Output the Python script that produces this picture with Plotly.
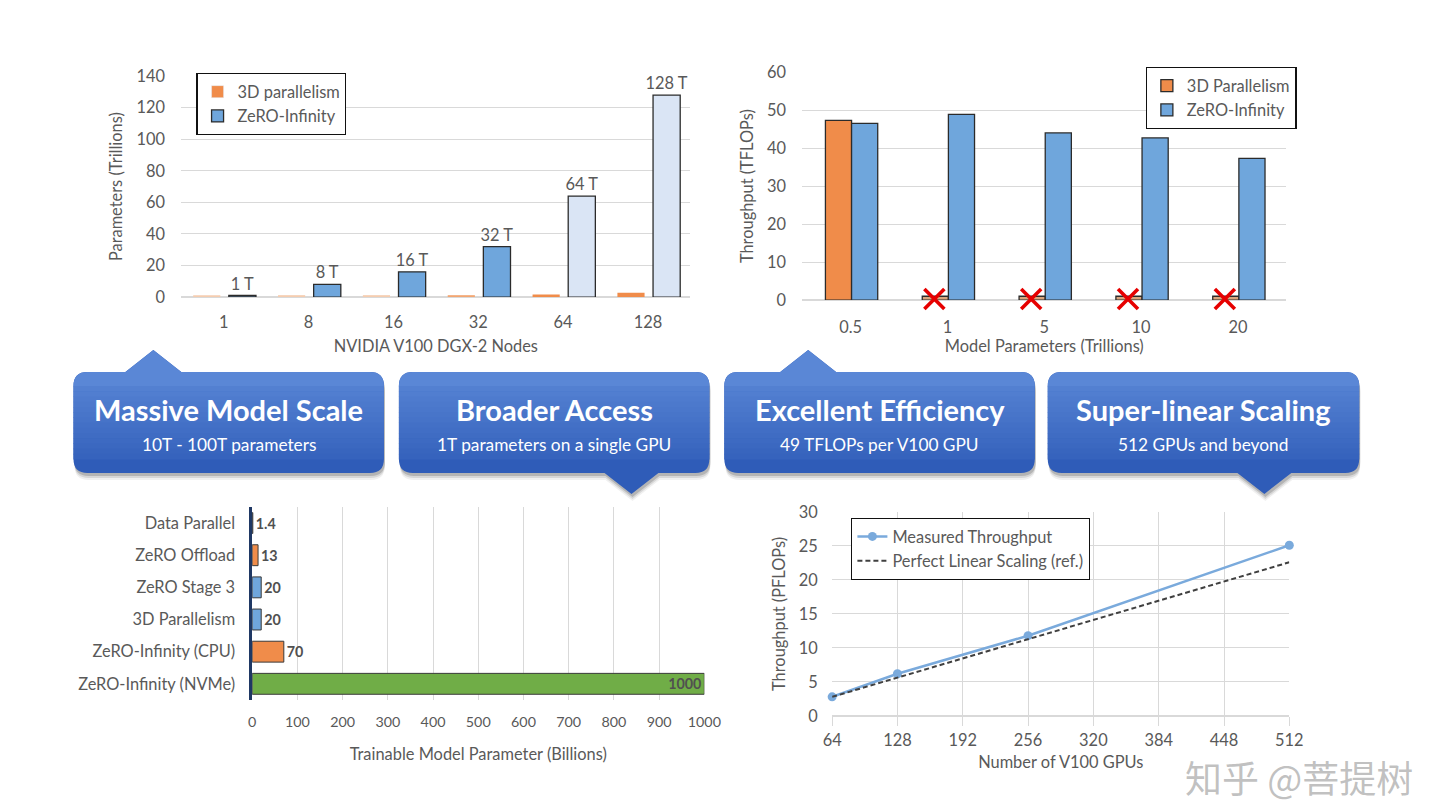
import plotly.graph_objects as go

W, H = 1440, 811
# the page is photographed slightly scaled/offset; map target picture pixels to figure paper coords
AX, BX, AY, BY = 0.983, 8.4, 0.977, 9.8
def X(px): return ((px - BX) / AX) / W
def Y(py): return 1 - ((py - BY) / AY) / H

FONT = "Lato"
GREY = "#595959"
GRID = "#d9d9d9"
FS = 16.4

# ---------------- data ----------------
nodes = ["1", "8", "16", "32", "64", "128"]
p3d_params = [0.8, 0.8, 0.8, 1.0, 1.7, 2.8]
zero_params = [1, 8, 16, 32, 64, 128]
zero_labels = ["1 T", "8 T", "16 T", "32 T", "64 T", "128 T"]

model_sizes = ["0.5", "1", "5", "10", "20"]
p3d_tflops = [47.3, 1.0, 1.0, 1.0, 1.0]
zero_tflops = [46.5, 48.9, 44.0, 42.7, 37.3]
p3d_failed = [False, True, True, True, True]

methods = ["Data Parallel", "ZeRO Offload", "ZeRO Stage 3", "3D Parallelism",
           "ZeRO-Infinity (CPU)", "ZeRO-Infinity (NVMe)"]
trainable_b = [1.4, 13, 20, 20, 70, 1000]
trainable_labels = ["1.4", "13", "20", "20", "70", "1000"]

gpus = [64, 128, 256, 512]
measured_pflops = [2.8, 6.2, 11.8, 25.1]
linear_gpus = [64, 512]
linear_pflops = [2.8, 22.6]

callout_titles = ["Massive Model Scale", "Broader Access", "Excellent Efficiency", "Super-linear Scaling"]
callout_subs = ["10T - 100T parameters", "1T parameters on a single GPU",
                "49 TFLOPs per V100 GPU", "512 GPUs and beyond"]

# ---------------- colours ----------------
ORANGE = "#f08c4a"
BLUE = "#6fa6dc"
LBLUE = "#dae5f5"
GREEN = "#70ad47"
NAVY = "#1f3864"
EDGE = "#2b2b2b"

fig = go.Figure()

# ---- Chart 1 ----
idx1 = list(range(len(nodes)))
fig.add_trace(go.Bar(x=idx1, y=p3d_params, xaxis="x", yaxis="y", width=0.32, offset=-0.36,
                     marker=dict(color=["#f5cdb0", "#f5cdb0", "#f5cdb0", "#f2a672", ORANGE, ORANGE],
                                 line=dict(width=0)), showlegend=False, hoverinfo="skip"))
fig.add_trace(go.Bar(x=idx1, y=zero_params, xaxis="x", yaxis="y", width=0.32, offset=0.06,
                     marker=dict(color=[BLUE, BLUE, BLUE, BLUE, LBLUE, LBLUE],
                                 line=dict(width=1.3, color=EDGE)),
                     text=zero_labels, textposition="outside", cliponaxis=False, constraintext="none",
                     textfont=dict(size=FS, color=GREY, family=FONT),
                     showlegend=False, hoverinfo="skip"))
fig.add_trace(go.Bar(x=[None], y=[None], xaxis="x", yaxis="y", name="3D parallelism",
                     marker=dict(color=ORANGE), legend="legend"))
fig.add_trace(go.Bar(x=[None], y=[None], xaxis="x", yaxis="y", name="ZeRO-Infinity",
                     marker=dict(color=BLUE, line=dict(width=1.3, color=EDGE)), legend="legend"))

# ---- Chart 2 ----
idx2 = list(range(len(model_sizes)))
fig.add_trace(go.Bar(x=idx2, y=p3d_tflops, xaxis="x2", yaxis="y2", width=0.27, offset=-0.26,
                     marker=dict(color=[ORANGE, "#d9a47c", "#d9a47c", "#d9a47c", "#d9a47c"],
                                 line=dict(width=1.3, color=EDGE)),
                     showlegend=False, hoverinfo="skip"))
fig.add_trace(go.Bar(x=idx2, y=zero_tflops, xaxis="x2", yaxis="y2", width=0.27, offset=0.01,
                     marker=dict(color=BLUE, line=dict(width=1.3, color=EDGE)),
                     showlegend=False, hoverinfo="skip"))
fx = [i - 0.135 for i, f in zip(idx2, p3d_failed) if f]
fig.add_trace(go.Scatter(x=fx, y=[0.3] * len(fx), xaxis="x2", yaxis="y2", mode="markers",
                         marker=dict(symbol="x-thin", size=20, line=dict(width=3.6, color="#e60000")),
                         cliponaxis=False, showlegend=False, hoverinfo="skip"))
fig.add_trace(go.Bar(x=[None], y=[None], xaxis="x2", yaxis="y2", name="3D Parallelism",
                     marker=dict(color=ORANGE, line=dict(width=1.3, color=EDGE)), legend="legend2"))
fig.add_trace(go.Bar(x=[None], y=[None], xaxis="x2", yaxis="y2", name="ZeRO-Infinity",
                     marker=dict(color=BLUE, line=dict(width=1.3, color=EDGE)), legend="legend2"))

# ---- Chart 3 ----
fig.add_trace(go.Bar(y=methods, x=trainable_b, orientation="h", xaxis="x3", yaxis="y3", width=0.65,
                     marker=dict(color=[NAVY, ORANGE, BLUE, BLUE, ORANGE, GREEN],
                                 line=dict(width=1, color="#3a3a3a")),
                     text=["<b>%s</b>" % t for t in trainable_labels],
                     textposition=["outside"] * 5 + ["inside"], insidetextanchor="end",
                     textfont=dict(size=14.3, color="#505050", family=FONT),
                     constraintext="none", cliponaxis=False, showlegend=False, hoverinfo="skip"))

# ---- Chart 4 ----
fig.add_trace(go.Scatter(x=gpus, y=measured_pflops, xaxis="x4", yaxis="y4", mode="lines+markers",
                         name="Measured Throughput", line=dict(color="#7aaadc", width=2.5),
                         marker=dict(size=9, color="#7aaadc"), cliponaxis=False, legend="legend4"))
fig.add_trace(go.Scatter(x=linear_gpus, y=linear_pflops, xaxis="x4", yaxis="y4", mode="lines",
                         name="Perfect Linear Scaling (ref.)",
                         line=dict(color="#404040", width=2, dash="5px,3px"), legend="legend4"))

tickfont = dict(size=FS, color=GREY, family=FONT)
titlefont = dict(size=FS, color=GREY, family=FONT)
hidden_ticks = dict(ticks="outside", tickcolor="rgba(0,0,0,0)")

legend_common = dict(xanchor="left", yanchor="top", bordercolor="#111111", borderwidth=1.3,
                     bgcolor="white", font=dict(size=FS, color=GREY, family=FONT),
                     itemwidth=30, tracegroupgap=0, traceorder="normal")

fig.update_layout(
    width=W, height=H, margin=dict(l=0, r=0, t=0, b=0),
    paper_bgcolor="white", plot_bgcolor="white",
    font=dict(family=FONT, color=GREY), barmode="overlay",
    xaxis=dict(domain=[X(180), X(690)], anchor="y", range=[-0.5, 5.5], tickvals=idx1, ticktext=nodes,
               showgrid=False, zeroline=False, showline=False, tickfont=tickfont, ticklen=10, **hidden_ticks,
               title=dict(text="NVIDIA V100 DGX-2 Nodes", font=titlefont, standoff=10)),
    yaxis=dict(domain=[Y(297), Y(76)], anchor="x", range=[0, 140], dtick=20, gridcolor=GRID,
               zeroline=True, zerolinecolor=GRID, showline=False, tickfont=tickfont, ticklen=12, **hidden_ticks,
               title=dict(text="Parameters (Trillions)", font=titlefont, standoff=9)),
    xaxis2=dict(domain=[X(802), X(1287)], anchor="y2", range=[-0.5, 4.5], tickvals=idx2, ticktext=model_sizes,
                showgrid=False, zeroline=False, showline=False, tickfont=tickfont, ticklen=12, **hidden_ticks,
                title=dict(text="Model Parameters (Trillions)", font=titlefont, standoff=5)),
    yaxis2=dict(domain=[Y(300), Y(72)], anchor="x2", range=[0, 60], dtick=10, gridcolor=GRID,
                zeroline=True, zerolinecolor=GRID, showline=False, tickfont=tickfont, ticklen=12, **hidden_ticks,
                title=dict(text="Throughput (TFLOPs)", font=titlefont, standoff=9)),
    xaxis3=dict(domain=[X(251), X(704)], anchor="y3", range=[0, 1000], dtick=100, gridcolor=GRID,
                showgrid=True, zeroline=False, showline=False, tickfont=dict(size=14.3, color=GREY, family=FONT),
                ticklen=9, **hidden_ticks,
                title=dict(text="Trainable Model Parameter (Billions)", font=titlefont, standoff=19)),
    yaxis3=dict(domain=[Y(700), Y(507)], anchor="x3", autorange="reversed", showgrid=False,
                showline=True, linecolor=NAVY, linewidth=2.5, tickfont=tickfont, ticklen=11, **hidden_ticks),
    xaxis4=dict(domain=[X(832), X(1290)], anchor="y4", range=[64, 512], tick0=64, dtick=64, gridcolor=GRID,
                showgrid=True, zeroline=False, showline=False, tickfont=tickfont,
                ticks="outside", ticklen=9, tickcolor=GRID,
                title=dict(text="Number of V100 GPUs", font=titlefont, standoff=8)),
    yaxis4=dict(domain=[Y(716), Y(512)], anchor="x4", range=[0, 30], dtick=5, gridcolor=GRID,
                zeroline=True, zerolinecolor=GRID, showline=False, tickfont=tickfont, ticklen=10, **hidden_ticks,
                title=dict(text="Throughput (PFLOPs)", font=titlefont, standoff=9)),
    legend=dict(x=X(195), y=Y(73), **legend_common),
    legend2=dict(x=X(1146), y=Y(67), **legend_common),
    legend4=dict(x=X(851), y=Y(518), **legend_common),
)

# ---------------- callout boxes ----------------
def pt(x, y):
    return "%.5f,%.5f" % (X(x), Y(y))

def box_path(x0, y0, x1, y1, r, ptr, dx=0, dy=0):
    x0 += dx; x1 += dx; y0 += dy; y1 += dy
    side, cx, hw, ay = ptr
    cx += dx; ay += dy
    p = "M" + pt(x0 + r, y0)
    if side == "top":
        p += " L" + pt(cx - hw, y0) + " L" + pt(cx, ay) + " L" + pt(cx + hw, y0)
    p += " L" + pt(x1 - r, y0) + " Q" + pt(x1, y0) + " " + pt(x1, y0 + r)
    p += " L" + pt(x1, y1 - r) + " Q" + pt(x1, y1) + " " + pt(x1 - r, y1)
    if side == "bottom":
        p += " L" + pt(cx + hw, y1) + " L" + pt(cx, ay) + " L" + pt(cx - hw, y1)
    p += " L" + pt(x0 + r, y1) + " Q" + pt(x0, y1) + " " + pt(x0, y1 - r)
    p += " L" + pt(x0, y0 + r) + " Q" + pt(x0, y0) + " " + pt(x0 + r, y0) + " Z"
    return p

def top_band(x0, y0, x1, r, ptr):
    side, cx, hw, ay = ptr
    p = "M" + pt(x0, y0 + r + 0.5) + " L" + pt(x0, y0 + r) + " Q" + pt(x0, y0) + " " + pt(x0 + r, y0)
    if side == "top":
        p += " L" + pt(cx - hw, y0) + " L" + pt(cx, ay) + " L" + pt(cx + hw, y0)
    p += " L" + pt(x1 - r, y0) + " Q" + pt(x1, y0) + " " + pt(x1, y0 + r) + " L" + pt(x1, y0 + r + 0.5) + " Z"
    return p

def mix(c1, c2, t):
    a = [int(c1[i:i + 2], 16) for i in (1, 3, 5)]
    b = [int(c2[i:i + 2], 16) for i in (1, 3, 5)]
    return "rgb(%d,%d,%d)" % tuple(round(a[k] + (b[k] - a[k]) * t) for k in range(3))

TOP_C, BOT_C = "#5a87d6", "#2f5cb8"
boxes = [
    (72, 372, 383, 473, ("top", 152, 28, 350)),
    (398, 372, 709, 473, ("bottom", 631, 27, 494)),
    (724, 372, 1035, 473, ("top", 808, 28, 350)),
    (1048, 372, 1360, 473, ("bottom", 1265, 27, 494)),
]
shapes = []
R = 14
for (x0, y0, x1, y1, ptr), title, sub in zip(boxes, callout_titles, callout_subs):
    for k, (off, op) in enumerate([(7, 0.06), (5, 0.10), (3, 0.16)]):
        shapes.append(dict(type="path", xref="paper", yref="paper",
                           path=box_path(x0, y0, x1, y1, R, ptr, dx=1, dy=off),
                           fillcolor="rgba(0,0,0,%.2f)" % op, line=dict(width=0), layer="below"))
    shapes.append(dict(type="path", xref="paper", yref="paper", path=box_path(x0, y0, x1, y1, R, ptr),
                       fillcolor=BOT_C, line=dict(width=0)))
    shapes.append(dict(type="path", xref="paper", yref="paper", path=top_band(x0, y0, x1, R, ptr),
                       fillcolor=TOP_C, line=dict(width=0)))
    n = 14
    ys, ye = y0 + R, y1 - R
    for i in range(n):
        a = ys + (ye - ys) * i / n
        b = ys + (ye - ys) * (i + 1) / n + 0.6
        t = (i + 0.5) / n * (ye - ys) / (y1 - y0) + R / (y1 - y0)
        shapes.append(dict(type="rect", xref="paper", yref="paper", x0=X(x0), x1=X(x1), y0=Y(b), y1=Y(a),
                           fillcolor=mix(TOP_C, BOT_C, t), line=dict(width=0)))
    cx = (x0 + x1) / 2
    fig.add_annotation(x=X(cx), y=Y(409), xref="paper", yref="paper", text=title, showarrow=False,
                       font=dict(size=29, color="white", family=FONT, weight=700),
                       xanchor="center", yanchor="middle")
    fig.add_annotation(x=X(cx), y=Y(444), xref="paper", yref="paper", text=sub, showarrow=False,
                       font=dict(size=17.3, color="white", family=FONT),
                       xanchor="center", yanchor="middle")

fig.update_layout(shapes=shapes)

# watermark
fig.add_annotation(x=X(1300), y=Y(777), xref="paper", yref="paper", text="知乎 @菩提树", showarrow=False,
                   font=dict(size=37, color="rgba(140,140,140,0.55)", family="Noto Sans CJK SC"),
                   xanchor="center", yanchor="middle")

fig.write_html("out.html", config={"displayModeBar": False},
               post_script="document.body.style.margin='0';document.body.style.overflow='hidden';"
                           "document.documentElement.style.overflow='hidden';")
